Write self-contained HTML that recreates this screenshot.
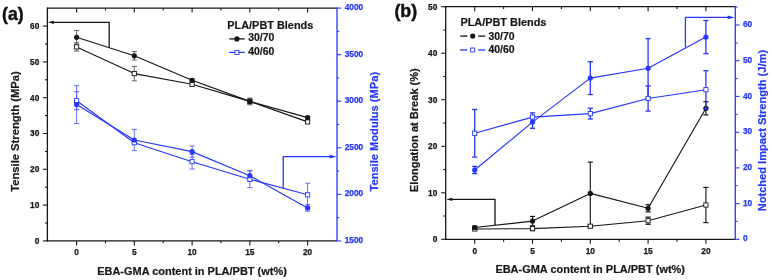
<!DOCTYPE html>
<html><head><meta charset="utf-8"><title>Figure</title>
<style>
html,body{margin:0;padding:0;background:#fff;}
body{width:772px;height:280px;overflow:hidden;}
svg{display:block;}
svg text{font-family:"Liberation Sans",Arial,Helvetica,sans-serif;font-weight:bold;paint-order:stroke;}
</style></head><body>
<svg width="772" height="280" viewBox="0 0 772 280">
<rect x="0" y="0" width="772" height="280" fill="#ffffff"/>
<g id="panel-a">
<line x1="47.4" y1="7.4" x2="47.4" y2="241.6" stroke="#161616" stroke-width="1.3" />
<line x1="47.4" y1="8.1" x2="337.0" y2="8.1" stroke="#161616" stroke-width="1.3" />
<line x1="47.4" y1="240.9" x2="337.0" y2="240.9" stroke="#161616" stroke-width="1.3" />
<line x1="337.0" y1="7.4" x2="337.0" y2="241.6" stroke="#2636ff" stroke-width="1.3" />
<line x1="76.6" y1="240.9" x2="76.6" y2="245.4" stroke="#161616" stroke-width="1.1" />
<line x1="76.6" y1="8.1" x2="76.6" y2="12.6" stroke="#161616" stroke-width="1.1" />
<text x="76.6" y="255.4" font-size="8.3" fill="#161616" text-anchor="middle" stroke="#161616" stroke-width="0.25">0</text>
<line x1="105.5" y1="240.9" x2="105.5" y2="243.3" stroke="#161616" stroke-width="1.1" />
<line x1="105.5" y1="8.1" x2="105.5" y2="10.5" stroke="#161616" stroke-width="1.1" />
<line x1="134.3" y1="240.9" x2="134.3" y2="245.4" stroke="#161616" stroke-width="1.1" />
<line x1="134.3" y1="8.1" x2="134.3" y2="12.6" stroke="#161616" stroke-width="1.1" />
<text x="134.3" y="255.4" font-size="8.3" fill="#161616" text-anchor="middle" stroke="#161616" stroke-width="0.25">5</text>
<line x1="163.2" y1="240.9" x2="163.2" y2="243.3" stroke="#161616" stroke-width="1.1" />
<line x1="163.2" y1="8.1" x2="163.2" y2="10.5" stroke="#161616" stroke-width="1.1" />
<line x1="192.1" y1="240.9" x2="192.1" y2="245.4" stroke="#161616" stroke-width="1.1" />
<line x1="192.1" y1="8.1" x2="192.1" y2="12.6" stroke="#161616" stroke-width="1.1" />
<text x="192.1" y="255.4" font-size="8.3" fill="#161616" text-anchor="middle" stroke="#161616" stroke-width="0.25">10</text>
<line x1="221.0" y1="240.9" x2="221.0" y2="243.3" stroke="#161616" stroke-width="1.1" />
<line x1="221.0" y1="8.1" x2="221.0" y2="10.5" stroke="#161616" stroke-width="1.1" />
<line x1="249.8" y1="240.9" x2="249.8" y2="245.4" stroke="#161616" stroke-width="1.1" />
<line x1="249.8" y1="8.1" x2="249.8" y2="12.6" stroke="#161616" stroke-width="1.1" />
<text x="249.8" y="255.4" font-size="8.3" fill="#161616" text-anchor="middle" stroke="#161616" stroke-width="0.25">15</text>
<line x1="278.7" y1="240.9" x2="278.7" y2="243.3" stroke="#161616" stroke-width="1.1" />
<line x1="278.7" y1="8.1" x2="278.7" y2="10.5" stroke="#161616" stroke-width="1.1" />
<line x1="307.6" y1="240.9" x2="307.6" y2="245.4" stroke="#161616" stroke-width="1.1" />
<line x1="307.6" y1="8.1" x2="307.6" y2="12.6" stroke="#161616" stroke-width="1.1" />
<text x="307.6" y="255.4" font-size="8.3" fill="#161616" text-anchor="middle" stroke="#161616" stroke-width="0.25">20</text>
<line x1="42.9" y1="240.9" x2="47.4" y2="240.9" stroke="#161616" stroke-width="1.1" />
<text x="39.3" y="243.8" font-size="8.3" fill="#161616" text-anchor="end" stroke="#161616" stroke-width="0.25">0</text>
<line x1="45.0" y1="223.0" x2="47.4" y2="223.0" stroke="#161616" stroke-width="1.1" />
<line x1="42.9" y1="205.1" x2="47.4" y2="205.1" stroke="#161616" stroke-width="1.1" />
<text x="39.3" y="208.0" font-size="8.3" fill="#161616" text-anchor="end" stroke="#161616" stroke-width="0.25">10</text>
<line x1="45.0" y1="187.2" x2="47.4" y2="187.2" stroke="#161616" stroke-width="1.1" />
<line x1="42.9" y1="169.3" x2="47.4" y2="169.3" stroke="#161616" stroke-width="1.1" />
<text x="39.3" y="172.2" font-size="8.3" fill="#161616" text-anchor="end" stroke="#161616" stroke-width="0.25">20</text>
<line x1="45.0" y1="151.4" x2="47.4" y2="151.4" stroke="#161616" stroke-width="1.1" />
<line x1="42.9" y1="133.5" x2="47.4" y2="133.5" stroke="#161616" stroke-width="1.1" />
<text x="39.3" y="136.4" font-size="8.3" fill="#161616" text-anchor="end" stroke="#161616" stroke-width="0.25">30</text>
<line x1="45.0" y1="115.6" x2="47.4" y2="115.6" stroke="#161616" stroke-width="1.1" />
<line x1="42.9" y1="97.7" x2="47.4" y2="97.7" stroke="#161616" stroke-width="1.1" />
<text x="39.3" y="100.6" font-size="8.3" fill="#161616" text-anchor="end" stroke="#161616" stroke-width="0.25">40</text>
<line x1="45.0" y1="79.8" x2="47.4" y2="79.8" stroke="#161616" stroke-width="1.1" />
<line x1="42.9" y1="61.9" x2="47.4" y2="61.9" stroke="#161616" stroke-width="1.1" />
<text x="39.3" y="64.8" font-size="8.3" fill="#161616" text-anchor="end" stroke="#161616" stroke-width="0.25">50</text>
<line x1="45.0" y1="44.0" x2="47.4" y2="44.0" stroke="#161616" stroke-width="1.1" />
<line x1="42.9" y1="26.1" x2="47.4" y2="26.1" stroke="#161616" stroke-width="1.1" />
<text x="39.3" y="29.0" font-size="8.3" fill="#161616" text-anchor="end" stroke="#161616" stroke-width="0.25">60</text>
<line x1="337.0" y1="240.9" x2="341.2" y2="240.9" stroke="#2636ff" stroke-width="1.1" />
<text x="344.7" y="243.0" font-size="8.3" fill="#2636ff" text-anchor="start" stroke="#2636ff" stroke-width="0.25">1500</text>
<line x1="337.0" y1="217.6" x2="339.2" y2="217.6" stroke="#2636ff" stroke-width="1.1" />
<line x1="337.0" y1="194.3" x2="341.2" y2="194.3" stroke="#2636ff" stroke-width="1.1" />
<text x="344.7" y="196.4" font-size="8.3" fill="#2636ff" text-anchor="start" stroke="#2636ff" stroke-width="0.25">2000</text>
<line x1="337.0" y1="171.1" x2="339.2" y2="171.1" stroke="#2636ff" stroke-width="1.1" />
<line x1="337.0" y1="147.8" x2="341.2" y2="147.8" stroke="#2636ff" stroke-width="1.1" />
<text x="344.7" y="149.9" font-size="8.3" fill="#2636ff" text-anchor="start" stroke="#2636ff" stroke-width="0.25">2500</text>
<line x1="337.0" y1="124.5" x2="339.2" y2="124.5" stroke="#2636ff" stroke-width="1.1" />
<line x1="337.0" y1="101.2" x2="341.2" y2="101.2" stroke="#2636ff" stroke-width="1.1" />
<text x="344.7" y="103.3" font-size="8.3" fill="#2636ff" text-anchor="start" stroke="#2636ff" stroke-width="0.25">3000</text>
<line x1="337.0" y1="77.9" x2="339.2" y2="77.9" stroke="#2636ff" stroke-width="1.1" />
<line x1="337.0" y1="54.7" x2="341.2" y2="54.7" stroke="#2636ff" stroke-width="1.1" />
<text x="344.7" y="56.8" font-size="8.3" fill="#2636ff" text-anchor="start" stroke="#2636ff" stroke-width="0.25">3500</text>
<line x1="337.0" y1="31.4" x2="339.2" y2="31.4" stroke="#2636ff" stroke-width="1.1" />
<line x1="337.0" y1="8.1" x2="341.2" y2="8.1" stroke="#2636ff" stroke-width="1.1" />
<text x="344.7" y="10.2" font-size="8.3" fill="#2636ff" text-anchor="start" stroke="#2636ff" stroke-width="0.25">4000</text>
<polyline points="109.2,47.6 109.2,22.3 51.0,22.3" fill="none" stroke="#161616" stroke-width="1.3" stroke-linejoin="round"/>
<polygon points="47.9,22.3 53.9,20.7 53.9,23.9" fill="#161616"/>
<polyline points="283.2,188.2 283.2,156.7 333.0,156.7" fill="none" stroke="#2636ff" stroke-width="1.3" stroke-linejoin="round"/>
<polygon points="336.6,156.7 329.6,154.8 329.6,158.6" fill="#2636ff"/>
<line x1="76.6" y1="42.7" x2="76.6" y2="51.1" stroke="#484c50" stroke-width="0.85" />
<line x1="74.0" y1="42.7" x2="79.2" y2="42.7" stroke="#484c50" stroke-width="0.85" />
<line x1="74.0" y1="51.1" x2="79.2" y2="51.1" stroke="#484c50" stroke-width="0.85" />
<line x1="134.3" y1="66.4" x2="134.3" y2="80.8" stroke="#484c50" stroke-width="0.85" />
<line x1="131.8" y1="66.4" x2="136.9" y2="66.4" stroke="#484c50" stroke-width="0.85" />
<line x1="131.8" y1="80.8" x2="136.9" y2="80.8" stroke="#484c50" stroke-width="0.85" />
<line x1="192.1" y1="82.8" x2="192.1" y2="85.8" stroke="#484c50" stroke-width="0.85" />
<line x1="189.5" y1="82.8" x2="194.7" y2="82.8" stroke="#484c50" stroke-width="0.85" />
<line x1="189.5" y1="85.8" x2="194.7" y2="85.8" stroke="#484c50" stroke-width="0.85" />
<line x1="249.8" y1="98.9" x2="249.8" y2="103.9" stroke="#484c50" stroke-width="0.85" />
<line x1="247.2" y1="98.9" x2="252.4" y2="98.9" stroke="#484c50" stroke-width="0.85" />
<line x1="247.2" y1="103.9" x2="252.4" y2="103.9" stroke="#484c50" stroke-width="0.85" />
<line x1="307.6" y1="120.4" x2="307.6" y2="123.4" stroke="#484c50" stroke-width="0.85" />
<line x1="305.0" y1="120.4" x2="310.2" y2="120.4" stroke="#484c50" stroke-width="0.85" />
<line x1="305.0" y1="123.4" x2="310.2" y2="123.4" stroke="#484c50" stroke-width="0.85" />
<line x1="76.6" y1="30.4" x2="76.6" y2="44.2" stroke="#484c50" stroke-width="0.85" />
<line x1="74.0" y1="30.4" x2="79.2" y2="30.4" stroke="#484c50" stroke-width="0.85" />
<line x1="74.0" y1="44.2" x2="79.2" y2="44.2" stroke="#484c50" stroke-width="0.85" />
<line x1="134.3" y1="51.6" x2="134.3" y2="60.0" stroke="#484c50" stroke-width="0.85" />
<line x1="131.8" y1="51.6" x2="136.9" y2="51.6" stroke="#484c50" stroke-width="0.85" />
<line x1="131.8" y1="60.0" x2="136.9" y2="60.0" stroke="#484c50" stroke-width="0.85" />
<line x1="192.1" y1="78.8" x2="192.1" y2="81.8" stroke="#484c50" stroke-width="0.85" />
<line x1="189.5" y1="78.8" x2="194.7" y2="78.8" stroke="#484c50" stroke-width="0.85" />
<line x1="189.5" y1="81.8" x2="194.7" y2="81.8" stroke="#484c50" stroke-width="0.85" />
<line x1="249.8" y1="98.0" x2="249.8" y2="104.8" stroke="#484c50" stroke-width="0.85" />
<line x1="247.2" y1="98.0" x2="252.4" y2="98.0" stroke="#484c50" stroke-width="0.85" />
<line x1="247.2" y1="104.8" x2="252.4" y2="104.8" stroke="#484c50" stroke-width="0.85" />
<line x1="307.6" y1="116.3" x2="307.6" y2="118.9" stroke="#484c50" stroke-width="0.85" />
<line x1="305.0" y1="116.3" x2="310.2" y2="116.3" stroke="#484c50" stroke-width="0.85" />
<line x1="305.0" y1="118.9" x2="310.2" y2="118.9" stroke="#484c50" stroke-width="0.85" />
<line x1="76.6" y1="91.7" x2="76.6" y2="109.7" stroke="#4c58ff" stroke-width="0.85" />
<line x1="74.0" y1="91.7" x2="79.2" y2="91.7" stroke="#4c58ff" stroke-width="0.85" />
<line x1="74.0" y1="109.7" x2="79.2" y2="109.7" stroke="#4c58ff" stroke-width="0.85" />
<line x1="134.3" y1="142.7" x2="134.3" y2="142.7" stroke="#4c58ff" stroke-width="0.85" />
<line x1="131.8" y1="142.7" x2="136.9" y2="142.7" stroke="#4c58ff" stroke-width="0.85" />
<line x1="131.8" y1="142.7" x2="136.9" y2="142.7" stroke="#4c58ff" stroke-width="0.85" />
<line x1="192.1" y1="154.4" x2="192.1" y2="169.0" stroke="#4c58ff" stroke-width="0.85" />
<line x1="189.5" y1="154.4" x2="194.7" y2="154.4" stroke="#4c58ff" stroke-width="0.85" />
<line x1="189.5" y1="169.0" x2="194.7" y2="169.0" stroke="#4c58ff" stroke-width="0.85" />
<line x1="249.8" y1="171.0" x2="249.8" y2="187.6" stroke="#4c58ff" stroke-width="0.85" />
<line x1="247.2" y1="171.0" x2="252.4" y2="171.0" stroke="#4c58ff" stroke-width="0.85" />
<line x1="247.2" y1="187.6" x2="252.4" y2="187.6" stroke="#4c58ff" stroke-width="0.85" />
<line x1="307.6" y1="183.2" x2="307.6" y2="206.4" stroke="#4c58ff" stroke-width="0.85" />
<line x1="305.0" y1="183.2" x2="310.2" y2="183.2" stroke="#4c58ff" stroke-width="0.85" />
<line x1="305.0" y1="206.4" x2="310.2" y2="206.4" stroke="#4c58ff" stroke-width="0.85" />
<line x1="76.6" y1="85.7" x2="76.6" y2="123.5" stroke="#4c58ff" stroke-width="0.85" />
<line x1="74.0" y1="85.7" x2="79.2" y2="85.7" stroke="#4c58ff" stroke-width="0.85" />
<line x1="74.0" y1="123.5" x2="79.2" y2="123.5" stroke="#4c58ff" stroke-width="0.85" />
<line x1="134.3" y1="129.4" x2="134.3" y2="150.6" stroke="#4c58ff" stroke-width="0.85" />
<line x1="131.8" y1="129.4" x2="136.9" y2="129.4" stroke="#4c58ff" stroke-width="0.85" />
<line x1="131.8" y1="150.6" x2="136.9" y2="150.6" stroke="#4c58ff" stroke-width="0.85" />
<line x1="192.1" y1="146.0" x2="192.1" y2="157.2" stroke="#4c58ff" stroke-width="0.85" />
<line x1="189.5" y1="146.0" x2="194.7" y2="146.0" stroke="#4c58ff" stroke-width="0.85" />
<line x1="189.5" y1="157.2" x2="194.7" y2="157.2" stroke="#4c58ff" stroke-width="0.85" />
<line x1="249.8" y1="170.4" x2="249.8" y2="181.0" stroke="#4c58ff" stroke-width="0.85" />
<line x1="247.2" y1="170.4" x2="252.4" y2="170.4" stroke="#4c58ff" stroke-width="0.85" />
<line x1="247.2" y1="181.0" x2="252.4" y2="181.0" stroke="#4c58ff" stroke-width="0.85" />
<line x1="307.6" y1="204.6" x2="307.6" y2="211.2" stroke="#4c58ff" stroke-width="0.85" />
<line x1="305.0" y1="204.6" x2="310.2" y2="204.6" stroke="#4c58ff" stroke-width="0.85" />
<line x1="305.0" y1="211.2" x2="310.2" y2="211.2" stroke="#4c58ff" stroke-width="0.85" />
<polyline points="76.6,46.9 134.3,73.6 192.1,84.3 249.8,101.4 307.6,121.9" fill="none" stroke="#161616" stroke-width="1.15" stroke-linejoin="round"/>
<polyline points="76.6,37.3 134.3,55.8 192.1,80.3 249.8,101.4 307.6,117.6" fill="none" stroke="#161616" stroke-width="1.15" stroke-linejoin="round"/>
<polyline points="76.6,100.7 134.3,142.7 192.1,161.7 249.8,179.3 307.6,194.8" fill="none" stroke="#2636ff" stroke-width="1.15" stroke-linejoin="round"/>
<polyline points="76.6,104.6 134.3,140.0 192.1,151.6 249.8,175.7 307.6,207.9" fill="none" stroke="#2636ff" stroke-width="1.15" stroke-linejoin="round"/>
<rect x="74.5" y="44.8" width="4.2" height="4.2" fill="#fff" stroke="#161616" stroke-width="0.9"/>
<rect x="132.2" y="71.5" width="4.2" height="4.2" fill="#fff" stroke="#161616" stroke-width="0.9"/>
<rect x="190.0" y="82.2" width="4.2" height="4.2" fill="#fff" stroke="#161616" stroke-width="0.9"/>
<rect x="247.8" y="99.3" width="4.2" height="4.2" fill="#fff" stroke="#161616" stroke-width="0.9"/>
<rect x="305.5" y="119.8" width="4.2" height="4.2" fill="#fff" stroke="#161616" stroke-width="0.9"/>
<circle cx="76.6" cy="37.3" r="2.6" fill="#161616"/>
<circle cx="134.3" cy="55.8" r="2.6" fill="#161616"/>
<circle cx="192.1" cy="80.3" r="2.6" fill="#161616"/>
<circle cx="249.8" cy="101.4" r="2.6" fill="#161616"/>
<circle cx="307.6" cy="117.6" r="2.6" fill="#161616"/>
<rect x="74.5" y="98.6" width="4.2" height="4.2" fill="#fff" stroke="#2636ff" stroke-width="0.9"/>
<rect x="132.2" y="140.6" width="4.2" height="4.2" fill="#fff" stroke="#2636ff" stroke-width="0.9"/>
<rect x="190.0" y="159.6" width="4.2" height="4.2" fill="#fff" stroke="#2636ff" stroke-width="0.9"/>
<rect x="247.8" y="177.2" width="4.2" height="4.2" fill="#fff" stroke="#2636ff" stroke-width="0.9"/>
<rect x="305.5" y="192.7" width="4.2" height="4.2" fill="#fff" stroke="#2636ff" stroke-width="0.9"/>
<circle cx="76.6" cy="104.6" r="2.6" fill="#2636ff"/>
<circle cx="134.3" cy="140.0" r="2.6" fill="#2636ff"/>
<circle cx="192.1" cy="151.6" r="2.6" fill="#2636ff"/>
<circle cx="249.8" cy="175.7" r="2.6" fill="#2636ff"/>
<circle cx="307.6" cy="207.9" r="2.6" fill="#2636ff"/>
<text x="227.3" y="28.9" font-size="10.9" fill="#161616" text-anchor="start" textLength="86.0" lengthAdjust="spacingAndGlyphs" stroke="#161616" stroke-width="0.2">PLA/PBT Blends</text>
<line x1="229.3" y1="38.9" x2="244.7" y2="38.9" stroke="#161616" stroke-width="1.3" />
<circle cx="236.9" cy="38.9" r="2.6" fill="#161616"/>
<text x="248.2" y="41.0" font-size="10.6" fill="#161616" text-anchor="start" textLength="26.2" lengthAdjust="spacingAndGlyphs" stroke="#161616" stroke-width="0.2">30/70</text>
<line x1="229.3" y1="52.4" x2="244.7" y2="52.4" stroke="#2636ff" stroke-width="1.3" />
<rect x="234.9" y="50.4" width="4.0" height="4.0" fill="#fff" stroke="#2636ff" stroke-width="0.9"/>
<text x="248.2" y="55.0" font-size="10.6" fill="#161616" text-anchor="start" textLength="26.2" lengthAdjust="spacingAndGlyphs" stroke="#161616" stroke-width="0.2">40/60</text>
<text x="2.0" y="19.5" font-size="18.2" fill="#111" text-anchor="start" textLength="21.6" lengthAdjust="spacingAndGlyphs" stroke="#111" stroke-width="0.45">(a)</text>
<text x="19.1" y="131.5" font-size="11.1" fill="#161616" text-anchor="middle" transform="rotate(-90 19.1 131.5)" textLength="120.6" lengthAdjust="spacingAndGlyphs" stroke="#161616" stroke-width="0.2">Tensile Strength (MPa)</text>
<text x="378.0" y="131.7" font-size="11.1" fill="#2636ff" text-anchor="middle" transform="rotate(-90 378.0 131.7)" textLength="119.6" lengthAdjust="spacingAndGlyphs" stroke="#2636ff" stroke-width="0.2">Tensile Modulus (MPa)</text>
<text x="192.0" y="274.6" font-size="11" fill="#161616" text-anchor="middle" textLength="189.6" lengthAdjust="spacingAndGlyphs" stroke="#161616" stroke-width="0.2">EBA-GMA content in PLA/PBT (wt%)</text>
</g>
<g id="panel-b">
<line x1="445.7" y1="6.0" x2="445.7" y2="240.0" stroke="#161616" stroke-width="1.3" />
<line x1="445.7" y1="6.7" x2="735.3" y2="6.7" stroke="#161616" stroke-width="1.3" />
<line x1="445.7" y1="239.3" x2="735.3" y2="239.3" stroke="#161616" stroke-width="1.3" />
<line x1="735.3" y1="6.0" x2="735.3" y2="240.0" stroke="#2636ff" stroke-width="1.3" />
<line x1="474.7" y1="239.3" x2="474.7" y2="243.8" stroke="#161616" stroke-width="1.1" />
<line x1="474.7" y1="6.7" x2="474.7" y2="11.2" stroke="#161616" stroke-width="1.1" />
<text x="474.7" y="254.0" font-size="8.3" fill="#161616" text-anchor="middle" stroke="#161616" stroke-width="0.25">0</text>
<line x1="503.6" y1="239.3" x2="503.6" y2="241.7" stroke="#161616" stroke-width="1.1" />
<line x1="503.6" y1="6.7" x2="503.6" y2="9.1" stroke="#161616" stroke-width="1.1" />
<line x1="532.5" y1="239.3" x2="532.5" y2="243.8" stroke="#161616" stroke-width="1.1" />
<line x1="532.5" y1="6.7" x2="532.5" y2="11.2" stroke="#161616" stroke-width="1.1" />
<text x="532.5" y="254.0" font-size="8.3" fill="#161616" text-anchor="middle" stroke="#161616" stroke-width="0.25">5</text>
<line x1="561.4" y1="239.3" x2="561.4" y2="241.7" stroke="#161616" stroke-width="1.1" />
<line x1="561.4" y1="6.7" x2="561.4" y2="9.1" stroke="#161616" stroke-width="1.1" />
<line x1="590.3" y1="239.3" x2="590.3" y2="243.8" stroke="#161616" stroke-width="1.1" />
<line x1="590.3" y1="6.7" x2="590.3" y2="11.2" stroke="#161616" stroke-width="1.1" />
<text x="590.3" y="254.0" font-size="8.3" fill="#161616" text-anchor="middle" stroke="#161616" stroke-width="0.25">10</text>
<line x1="619.2" y1="239.3" x2="619.2" y2="241.7" stroke="#161616" stroke-width="1.1" />
<line x1="619.2" y1="6.7" x2="619.2" y2="9.1" stroke="#161616" stroke-width="1.1" />
<line x1="648.1" y1="239.3" x2="648.1" y2="243.8" stroke="#161616" stroke-width="1.1" />
<line x1="648.1" y1="6.7" x2="648.1" y2="11.2" stroke="#161616" stroke-width="1.1" />
<text x="648.1" y="254.0" font-size="8.3" fill="#161616" text-anchor="middle" stroke="#161616" stroke-width="0.25">15</text>
<line x1="677.0" y1="239.3" x2="677.0" y2="241.7" stroke="#161616" stroke-width="1.1" />
<line x1="677.0" y1="6.7" x2="677.0" y2="9.1" stroke="#161616" stroke-width="1.1" />
<line x1="705.9" y1="239.3" x2="705.9" y2="243.8" stroke="#161616" stroke-width="1.1" />
<line x1="705.9" y1="6.7" x2="705.9" y2="11.2" stroke="#161616" stroke-width="1.1" />
<text x="705.9" y="254.0" font-size="8.3" fill="#161616" text-anchor="middle" stroke="#161616" stroke-width="0.25">20</text>
<line x1="441.2" y1="239.3" x2="445.7" y2="239.3" stroke="#161616" stroke-width="1.1" />
<text x="437.3" y="242.2" font-size="8.3" fill="#161616" text-anchor="end" stroke="#161616" stroke-width="0.25">0</text>
<line x1="443.3" y1="216.0" x2="445.7" y2="216.0" stroke="#161616" stroke-width="1.1" />
<line x1="441.2" y1="192.8" x2="445.7" y2="192.8" stroke="#161616" stroke-width="1.1" />
<text x="437.3" y="195.7" font-size="8.3" fill="#161616" text-anchor="end" stroke="#161616" stroke-width="0.25">10</text>
<line x1="443.3" y1="169.5" x2="445.7" y2="169.5" stroke="#161616" stroke-width="1.1" />
<line x1="441.2" y1="146.3" x2="445.7" y2="146.3" stroke="#161616" stroke-width="1.1" />
<text x="437.3" y="149.2" font-size="8.3" fill="#161616" text-anchor="end" stroke="#161616" stroke-width="0.25">20</text>
<line x1="443.3" y1="123.0" x2="445.7" y2="123.0" stroke="#161616" stroke-width="1.1" />
<line x1="441.2" y1="99.7" x2="445.7" y2="99.7" stroke="#161616" stroke-width="1.1" />
<text x="437.3" y="102.6" font-size="8.3" fill="#161616" text-anchor="end" stroke="#161616" stroke-width="0.25">30</text>
<line x1="443.3" y1="76.5" x2="445.7" y2="76.5" stroke="#161616" stroke-width="1.1" />
<line x1="441.2" y1="53.2" x2="445.7" y2="53.2" stroke="#161616" stroke-width="1.1" />
<text x="437.3" y="56.1" font-size="8.3" fill="#161616" text-anchor="end" stroke="#161616" stroke-width="0.25">40</text>
<line x1="443.3" y1="30.0" x2="445.7" y2="30.0" stroke="#161616" stroke-width="1.1" />
<line x1="441.2" y1="6.7" x2="445.7" y2="6.7" stroke="#161616" stroke-width="1.1" />
<text x="437.3" y="9.6" font-size="8.3" fill="#161616" text-anchor="end" stroke="#161616" stroke-width="0.25">50</text>
<line x1="735.3" y1="239.3" x2="739.5" y2="239.3" stroke="#2636ff" stroke-width="1.1" />
<text x="742.9" y="241.4" font-size="8.3" fill="#2636ff" text-anchor="start" stroke="#2636ff" stroke-width="0.25">0</text>
<line x1="735.3" y1="221.4" x2="737.5" y2="221.4" stroke="#2636ff" stroke-width="1.1" />
<line x1="735.3" y1="203.6" x2="739.5" y2="203.6" stroke="#2636ff" stroke-width="1.1" />
<text x="742.9" y="205.7" font-size="8.3" fill="#2636ff" text-anchor="start" stroke="#2636ff" stroke-width="0.25">10</text>
<line x1="735.3" y1="185.7" x2="737.5" y2="185.7" stroke="#2636ff" stroke-width="1.1" />
<line x1="735.3" y1="167.9" x2="739.5" y2="167.9" stroke="#2636ff" stroke-width="1.1" />
<text x="742.9" y="170.0" font-size="8.3" fill="#2636ff" text-anchor="start" stroke="#2636ff" stroke-width="0.25">20</text>
<line x1="735.3" y1="150.0" x2="737.5" y2="150.0" stroke="#2636ff" stroke-width="1.1" />
<line x1="735.3" y1="132.2" x2="739.5" y2="132.2" stroke="#2636ff" stroke-width="1.1" />
<text x="742.9" y="134.2" font-size="8.3" fill="#2636ff" text-anchor="start" stroke="#2636ff" stroke-width="0.25">30</text>
<line x1="735.3" y1="114.3" x2="737.5" y2="114.3" stroke="#2636ff" stroke-width="1.1" />
<line x1="735.3" y1="96.4" x2="739.5" y2="96.4" stroke="#2636ff" stroke-width="1.1" />
<text x="742.9" y="98.5" font-size="8.3" fill="#2636ff" text-anchor="start" stroke="#2636ff" stroke-width="0.25">40</text>
<line x1="735.3" y1="78.6" x2="737.5" y2="78.6" stroke="#2636ff" stroke-width="1.1" />
<line x1="735.3" y1="60.7" x2="739.5" y2="60.7" stroke="#2636ff" stroke-width="1.1" />
<text x="742.9" y="62.8" font-size="8.3" fill="#2636ff" text-anchor="start" stroke="#2636ff" stroke-width="0.25">50</text>
<line x1="735.3" y1="42.9" x2="737.5" y2="42.9" stroke="#2636ff" stroke-width="1.1" />
<line x1="735.3" y1="25.0" x2="739.5" y2="25.0" stroke="#2636ff" stroke-width="1.1" />
<text x="742.9" y="27.1" font-size="8.3" fill="#2636ff" text-anchor="start" stroke="#2636ff" stroke-width="0.25">60</text>
<line x1="735.3" y1="7.1" x2="737.5" y2="7.1" stroke="#2636ff" stroke-width="1.1" />
<polyline points="495.0,225.2 495.0,199.3 450.0,199.3" fill="none" stroke="#161616" stroke-width="1.3" stroke-linejoin="round"/>
<polygon points="446.3,199.3 452.3,197.7 452.3,200.9" fill="#161616"/>
<polyline points="685.4,47.2 685.4,17.4 731.0,17.4" fill="none" stroke="#2636ff" stroke-width="1.3" stroke-linejoin="round"/>
<polygon points="734.6,17.4 727.6,15.5 727.6,19.3" fill="#2636ff"/>
<line x1="474.7" y1="227.8" x2="474.7" y2="230.2" stroke="#161616" stroke-width="1.15" />
<line x1="472.1" y1="227.8" x2="477.3" y2="227.8" stroke="#161616" stroke-width="1.15" />
<line x1="472.1" y1="230.2" x2="477.3" y2="230.2" stroke="#161616" stroke-width="1.15" />
<line x1="532.5" y1="226.6" x2="532.5" y2="230.6" stroke="#161616" stroke-width="1.15" />
<line x1="529.9" y1="226.6" x2="535.1" y2="226.6" stroke="#161616" stroke-width="1.15" />
<line x1="529.9" y1="230.6" x2="535.1" y2="230.6" stroke="#161616" stroke-width="1.15" />
<line x1="590.3" y1="224.9" x2="590.3" y2="227.5" stroke="#161616" stroke-width="1.15" />
<line x1="587.7" y1="224.9" x2="592.9" y2="224.9" stroke="#161616" stroke-width="1.15" />
<line x1="587.7" y1="227.5" x2="592.9" y2="227.5" stroke="#161616" stroke-width="1.15" />
<line x1="648.1" y1="217.1" x2="648.1" y2="224.3" stroke="#161616" stroke-width="1.15" />
<line x1="645.5" y1="217.1" x2="650.7" y2="217.1" stroke="#161616" stroke-width="1.15" />
<line x1="645.5" y1="224.3" x2="650.7" y2="224.3" stroke="#161616" stroke-width="1.15" />
<line x1="705.9" y1="187.4" x2="705.9" y2="222.6" stroke="#161616" stroke-width="1.15" />
<line x1="703.3" y1="187.4" x2="708.5" y2="187.4" stroke="#161616" stroke-width="1.15" />
<line x1="703.3" y1="222.6" x2="708.5" y2="222.6" stroke="#161616" stroke-width="1.15" />
<line x1="474.7" y1="226.0" x2="474.7" y2="229.0" stroke="#161616" stroke-width="1.15" />
<line x1="472.1" y1="226.0" x2="477.3" y2="226.0" stroke="#161616" stroke-width="1.15" />
<line x1="472.1" y1="229.0" x2="477.3" y2="229.0" stroke="#161616" stroke-width="1.15" />
<line x1="532.5" y1="216.4" x2="532.5" y2="225.8" stroke="#161616" stroke-width="1.15" />
<line x1="529.9" y1="216.4" x2="535.1" y2="216.4" stroke="#161616" stroke-width="1.15" />
<line x1="529.9" y1="225.8" x2="535.1" y2="225.8" stroke="#161616" stroke-width="1.15" />
<line x1="590.3" y1="162.1" x2="590.3" y2="224.7" stroke="#161616" stroke-width="1.15" />
<line x1="587.7" y1="162.1" x2="592.9" y2="162.1" stroke="#161616" stroke-width="1.15" />
<line x1="587.7" y1="224.7" x2="592.9" y2="224.7" stroke="#161616" stroke-width="1.15" />
<line x1="648.1" y1="204.7" x2="648.1" y2="211.9" stroke="#161616" stroke-width="1.15" />
<line x1="645.5" y1="204.7" x2="650.7" y2="204.7" stroke="#161616" stroke-width="1.15" />
<line x1="645.5" y1="211.9" x2="650.7" y2="211.9" stroke="#161616" stroke-width="1.15" />
<line x1="705.9" y1="101.7" x2="705.9" y2="114.9" stroke="#161616" stroke-width="1.15" />
<line x1="703.3" y1="101.7" x2="708.5" y2="101.7" stroke="#161616" stroke-width="1.15" />
<line x1="703.3" y1="114.9" x2="708.5" y2="114.9" stroke="#161616" stroke-width="1.15" />
<polyline points="474.7,229.0 532.5,228.6 590.3,226.2 648.1,220.7 705.9,205.0" fill="none" stroke="#161616" stroke-width="1.15" stroke-linejoin="round"/>
<polyline points="474.7,227.5 532.5,221.1 590.3,193.4 648.1,208.3 705.9,108.3" fill="none" stroke="#161616" stroke-width="1.15" stroke-linejoin="round"/>
<rect x="472.6" y="226.9" width="4.2" height="4.2" fill="#fff" stroke="#161616" stroke-width="0.9"/>
<rect x="530.4" y="226.5" width="4.2" height="4.2" fill="#fff" stroke="#161616" stroke-width="0.9"/>
<rect x="588.2" y="224.1" width="4.2" height="4.2" fill="#fff" stroke="#161616" stroke-width="0.9"/>
<rect x="646.0" y="218.6" width="4.2" height="4.2" fill="#fff" stroke="#161616" stroke-width="0.9"/>
<rect x="703.8" y="202.9" width="4.2" height="4.2" fill="#fff" stroke="#161616" stroke-width="0.9"/>
<circle cx="474.7" cy="227.5" r="2.6" fill="#161616"/>
<circle cx="532.5" cy="221.1" r="2.6" fill="#161616"/>
<circle cx="590.3" cy="193.4" r="2.6" fill="#161616"/>
<circle cx="648.1" cy="208.3" r="2.6" fill="#161616"/>
<circle cx="705.9" cy="108.3" r="2.6" fill="#161616"/>
<line x1="474.7" y1="109.5" x2="474.7" y2="157.1" stroke="#2636ff" stroke-width="1.3" />
<line x1="472.1" y1="109.5" x2="477.3" y2="109.5" stroke="#2636ff" stroke-width="1.3" />
<line x1="472.1" y1="157.1" x2="477.3" y2="157.1" stroke="#2636ff" stroke-width="1.3" />
<line x1="532.5" y1="112.9" x2="532.5" y2="121.3" stroke="#2636ff" stroke-width="1.3" />
<line x1="529.9" y1="112.9" x2="535.1" y2="112.9" stroke="#2636ff" stroke-width="1.3" />
<line x1="529.9" y1="121.3" x2="535.1" y2="121.3" stroke="#2636ff" stroke-width="1.3" />
<line x1="590.3" y1="108.2" x2="590.3" y2="119.0" stroke="#2636ff" stroke-width="1.3" />
<line x1="587.7" y1="108.2" x2="592.9" y2="108.2" stroke="#2636ff" stroke-width="1.3" />
<line x1="587.7" y1="119.0" x2="592.9" y2="119.0" stroke="#2636ff" stroke-width="1.3" />
<line x1="648.1" y1="85.9" x2="648.1" y2="111.1" stroke="#2636ff" stroke-width="1.3" />
<line x1="645.5" y1="85.9" x2="650.7" y2="85.9" stroke="#2636ff" stroke-width="1.3" />
<line x1="645.5" y1="111.1" x2="650.7" y2="111.1" stroke="#2636ff" stroke-width="1.3" />
<line x1="705.9" y1="70.7" x2="705.9" y2="108.7" stroke="#2636ff" stroke-width="1.3" />
<line x1="703.3" y1="70.7" x2="708.5" y2="70.7" stroke="#2636ff" stroke-width="1.3" />
<line x1="703.3" y1="108.7" x2="708.5" y2="108.7" stroke="#2636ff" stroke-width="1.3" />
<line x1="474.7" y1="166.4" x2="474.7" y2="173.6" stroke="#2636ff" stroke-width="1.3" />
<line x1="472.1" y1="166.4" x2="477.3" y2="166.4" stroke="#2636ff" stroke-width="1.3" />
<line x1="472.1" y1="173.6" x2="477.3" y2="173.6" stroke="#2636ff" stroke-width="1.3" />
<line x1="532.5" y1="115.9" x2="532.5" y2="128.3" stroke="#2636ff" stroke-width="1.3" />
<line x1="529.9" y1="115.9" x2="535.1" y2="115.9" stroke="#2636ff" stroke-width="1.3" />
<line x1="529.9" y1="128.3" x2="535.1" y2="128.3" stroke="#2636ff" stroke-width="1.3" />
<line x1="590.3" y1="61.7" x2="590.3" y2="94.5" stroke="#2636ff" stroke-width="1.3" />
<line x1="587.7" y1="61.7" x2="592.9" y2="61.7" stroke="#2636ff" stroke-width="1.3" />
<line x1="587.7" y1="94.5" x2="592.9" y2="94.5" stroke="#2636ff" stroke-width="1.3" />
<line x1="648.1" y1="38.6" x2="648.1" y2="98.0" stroke="#2636ff" stroke-width="1.3" />
<line x1="645.5" y1="38.6" x2="650.7" y2="38.6" stroke="#2636ff" stroke-width="1.3" />
<line x1="645.5" y1="98.0" x2="650.7" y2="98.0" stroke="#2636ff" stroke-width="1.3" />
<line x1="705.9" y1="20.5" x2="705.9" y2="53.7" stroke="#2636ff" stroke-width="1.3" />
<line x1="703.3" y1="20.5" x2="708.5" y2="20.5" stroke="#2636ff" stroke-width="1.3" />
<line x1="703.3" y1="53.7" x2="708.5" y2="53.7" stroke="#2636ff" stroke-width="1.3" />
<polyline points="474.7,133.3 532.5,117.1 590.3,113.6 648.1,98.5 705.9,89.7" fill="none" stroke="#2636ff" stroke-width="1.15" stroke-linejoin="round"/>
<polyline points="474.7,170.0 532.5,122.1 590.3,78.1 648.1,68.3 705.9,37.1" fill="none" stroke="#2636ff" stroke-width="1.15" stroke-linejoin="round"/>
<rect x="472.6" y="131.2" width="4.2" height="4.2" fill="#fff" stroke="#2636ff" stroke-width="0.9"/>
<rect x="530.4" y="115.0" width="4.2" height="4.2" fill="#fff" stroke="#2636ff" stroke-width="0.9"/>
<rect x="588.2" y="111.5" width="4.2" height="4.2" fill="#fff" stroke="#2636ff" stroke-width="0.9"/>
<rect x="646.0" y="96.4" width="4.2" height="4.2" fill="#fff" stroke="#2636ff" stroke-width="0.9"/>
<rect x="703.8" y="87.6" width="4.2" height="4.2" fill="#fff" stroke="#2636ff" stroke-width="0.9"/>
<circle cx="474.7" cy="170.0" r="2.6" fill="#2636ff"/>
<circle cx="532.5" cy="122.1" r="2.6" fill="#2636ff"/>
<circle cx="590.3" cy="78.1" r="2.6" fill="#2636ff"/>
<circle cx="648.1" cy="68.3" r="2.6" fill="#2636ff"/>
<circle cx="705.9" cy="37.1" r="2.6" fill="#2636ff"/>
<text x="460.4" y="25.5" font-size="10.9" fill="#161616" text-anchor="start" textLength="86.0" lengthAdjust="spacingAndGlyphs" stroke="#161616" stroke-width="0.2">PLA/PBT Blends</text>
<line x1="460.2" y1="36.1" x2="467.4" y2="36.1" stroke="#161616" stroke-width="1.3" />
<line x1="478.2" y1="36.1" x2="485.4" y2="36.1" stroke="#161616" stroke-width="1.3" />
<circle cx="472.7" cy="36.1" r="2.6" fill="#161616"/>
<text x="488.4" y="39.6" font-size="10.6" fill="#161616" text-anchor="start" textLength="26.2" lengthAdjust="spacingAndGlyphs" stroke="#161616" stroke-width="0.2">30/70</text>
<line x1="460.2" y1="50.0" x2="467.4" y2="50.0" stroke="#2636ff" stroke-width="1.3" />
<line x1="478.2" y1="50.0" x2="485.4" y2="50.0" stroke="#2636ff" stroke-width="1.3" />
<rect x="470.7" y="48.0" width="4.0" height="4.0" fill="#fff" stroke="#2636ff" stroke-width="0.9"/>
<text x="488.4" y="53.4" font-size="10.6" fill="#161616" text-anchor="start" textLength="26.2" lengthAdjust="spacingAndGlyphs" stroke="#161616" stroke-width="0.2">40/60</text>
<text x="394.4" y="17.0" font-size="18.2" fill="#111" text-anchor="start" textLength="22.8" lengthAdjust="spacingAndGlyphs" stroke="#111" stroke-width="0.45">(b)</text>
<text x="417.9" y="130.2" font-size="11.1" fill="#161616" text-anchor="middle" transform="rotate(-90 417.9 130.2)" textLength="124.0" lengthAdjust="spacingAndGlyphs" stroke="#161616" stroke-width="0.2">Elongation at Break (%)</text>
<text x="766.5" y="130.6" font-size="11.1" fill="#2636ff" text-anchor="middle" transform="rotate(-90 766.5 130.6)" textLength="161.4" lengthAdjust="spacingAndGlyphs" stroke="#2636ff" stroke-width="0.2">Notched Impact Strength (J/m)</text>
<text x="590.2" y="272.7" font-size="11" fill="#161616" text-anchor="middle" textLength="189.6" lengthAdjust="spacingAndGlyphs" stroke="#161616" stroke-width="0.2">EBA-GMA content in PLA/PBT (wt%)</text>
</g>
</svg>
</body></html>
